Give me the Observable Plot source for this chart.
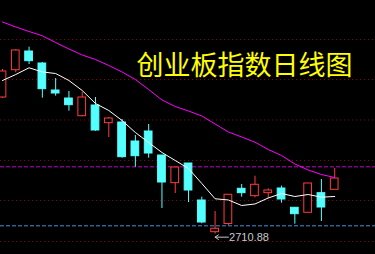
<!DOCTYPE html>
<html><head><meta charset="utf-8">
<script src="https://cdn.jsdelivr.net/npm/d3@7"></script>
<script src="https://cdn.jsdelivr.net/npm/@observablehq/plot@0.6"></script>
<style>html,body{margin:0;padding:0;background:#000;} #chart{width:375px;height:254px;overflow:hidden}</style>
</head><body><div id="chart"></div>
<script>
const title = "创业板指数日线图";
const opens  = [3052.5,3120.8,3167.5,3137.5,3070.0,3050.0,3005.8,3032.5,2988.3,2990.0,2942.5,2967.5,2907.5,2838.3,2887.5,2795.0,2715.8,2736.3,2824.3,2805.8,2813.3,2825.0,2776.8,2764.3,2813.3,2821.8];
const closes = [3117.5,3170.0,3143.3,3073.3,3062.5,3033.3,3052.5,2970.0,3000.0,2903.3,2905.8,2912.5,2840.0,2877.5,2820.0,2740.0,2724.3,2809.3,2813.3,2834.3,2820.0,2797.5,2760.8,2837.5,2777.5,2850.0];
const highs  = [3122.5,3172.5,3178.3,3140.0,3100.0,3067.5,3065.8,3052.5,3002.5,2997.5,2957.5,2985.0,2907.5,2877.5,2887.5,2803.3,2767.5,2809.3,2835.0,2855.8,2824.3,2830.8,2776.8,2837.5,2847.5,2875.0];
const lows   = [3050.0,3114.3,3135.0,3050.8,3055.8,3018.3,3004.0,2968.0,2952.5,2900.8,2878.3,2900.8,2775.0,2812.5,2790.0,2736.8,2710.88,2732.5,2803.3,2801.8,2799.3,2788.3,2735.8,2764.3,2742.5,2821.8];
const ma5    = [3095.0,3110.0,3126.8,3116.3,3112.5,3095.0,3070.0,3037.5,3020.0,2995.0,2965.0,2940.0,2915.0,2895.0,2875.0,2837.5,2799.3,2796.3,2782.5,2786.3,2801.3,2812.5,2805.0,2810.0,2803.3,2805.0];
const ma60   = [3241.3,3228.8,3217.5,3206.8,3190.0,3173.8,3158.8,3147.5,3132.5,3116.3,3097.5,3072.5,3046.3,3030.0,3018.8,3006.3,2986.3,2966.3,2953.8,2940.8,2922.5,2907.5,2886.3,2871.3,2860.0,2852.5];
const gridLevels = [3197.5,3097.5,2996.3,2895.0,2795.0,2692.5];
const pinkLevel = [2879.2];
const blueLevel = [2731.7];

const UP = "#ff3c3c", DOWN = "#54ffff";
const candles = opens.map((o, i) => ({
  i, open: o, close: closes[i], high: highs[i], low: lows[i], up: closes[i] >= o
}));
const ma5Data = ma5.map((v, i) => ({i, v}));
const ma60Data = ma60.map((v, i) => ({i, v}));
const lowest = candles.reduce((a, b) => (b.low < a.low ? b : a));

const chart = Plot.plot({
  width: 375, height: 254,
  marginTop: 0, marginBottom: 0, marginLeft: 0, marginRight: 0,
  style: {background: "#000"},
  x: {domain: [-0.15, 28.07], axis: null},
  y: {domain: [2660, 3295], axis: null},
  marks: [
    Plot.ruleY(gridLevels, {stroke: "#8c0000", strokeDasharray: "1 3"}),
    Plot.ruleY(pinkLevel, {stroke: "#c800c8", strokeDasharray: "4 2"}),
    Plot.ruleY(blueLevel, {stroke: "#4a8fd8", strokeDasharray: "4 2"}),
    Plot.ruleX(candles, {x: "i", y1: "low", y2: "high", stroke: d => d.up ? UP : DOWN, strokeWidth: 1}),
    Plot.rect(candles, {
      x1: d => d.i - 0.29, x2: d => d.i + 0.29,
      y1: "open", y2: "close",
      fill: d => d.up ? "#000" : DOWN,
      stroke: d => d.up ? UP : DOWN, strokeWidth: 1
    }),
    Plot.line(ma5Data, {x: "i", y: "v", stroke: "#ffffff", strokeWidth: 1}),
    Plot.line(ma60Data, {x: "i", y: "v", stroke: "#ff00ff", strokeWidth: 1}),
    Plot.arrow([lowest], {
      x1: d => d.i + 1.0, x2: d => d.i, y1: "low", y2: "low", dy: 3,
      stroke: "#c8c8c8", strokeWidth: 1, headLength: 6, headAngle: 70
    }),
    Plot.text([lowest], {
      x: "i", y: "low", text: d => d.low.toFixed(2),
      textAnchor: "start", lineAnchor: "middle", dy: 3.5, dx: 14,
      fill: "#c8c8c8", fontSize: 11, fontFamily: "Liberation Sans"
    }),
    Plot.text([title], {
      frameAnchor: "top-left", dx: 136, dy: 66, lineAnchor: "middle", textAnchor: "start",
      fill: "#ffff00", fontSize: 27, fontFamily: "Noto Sans CJK SC"
    })
  ]
});
document.getElementById("chart").appendChild(chart);
</script>
</body></html>
